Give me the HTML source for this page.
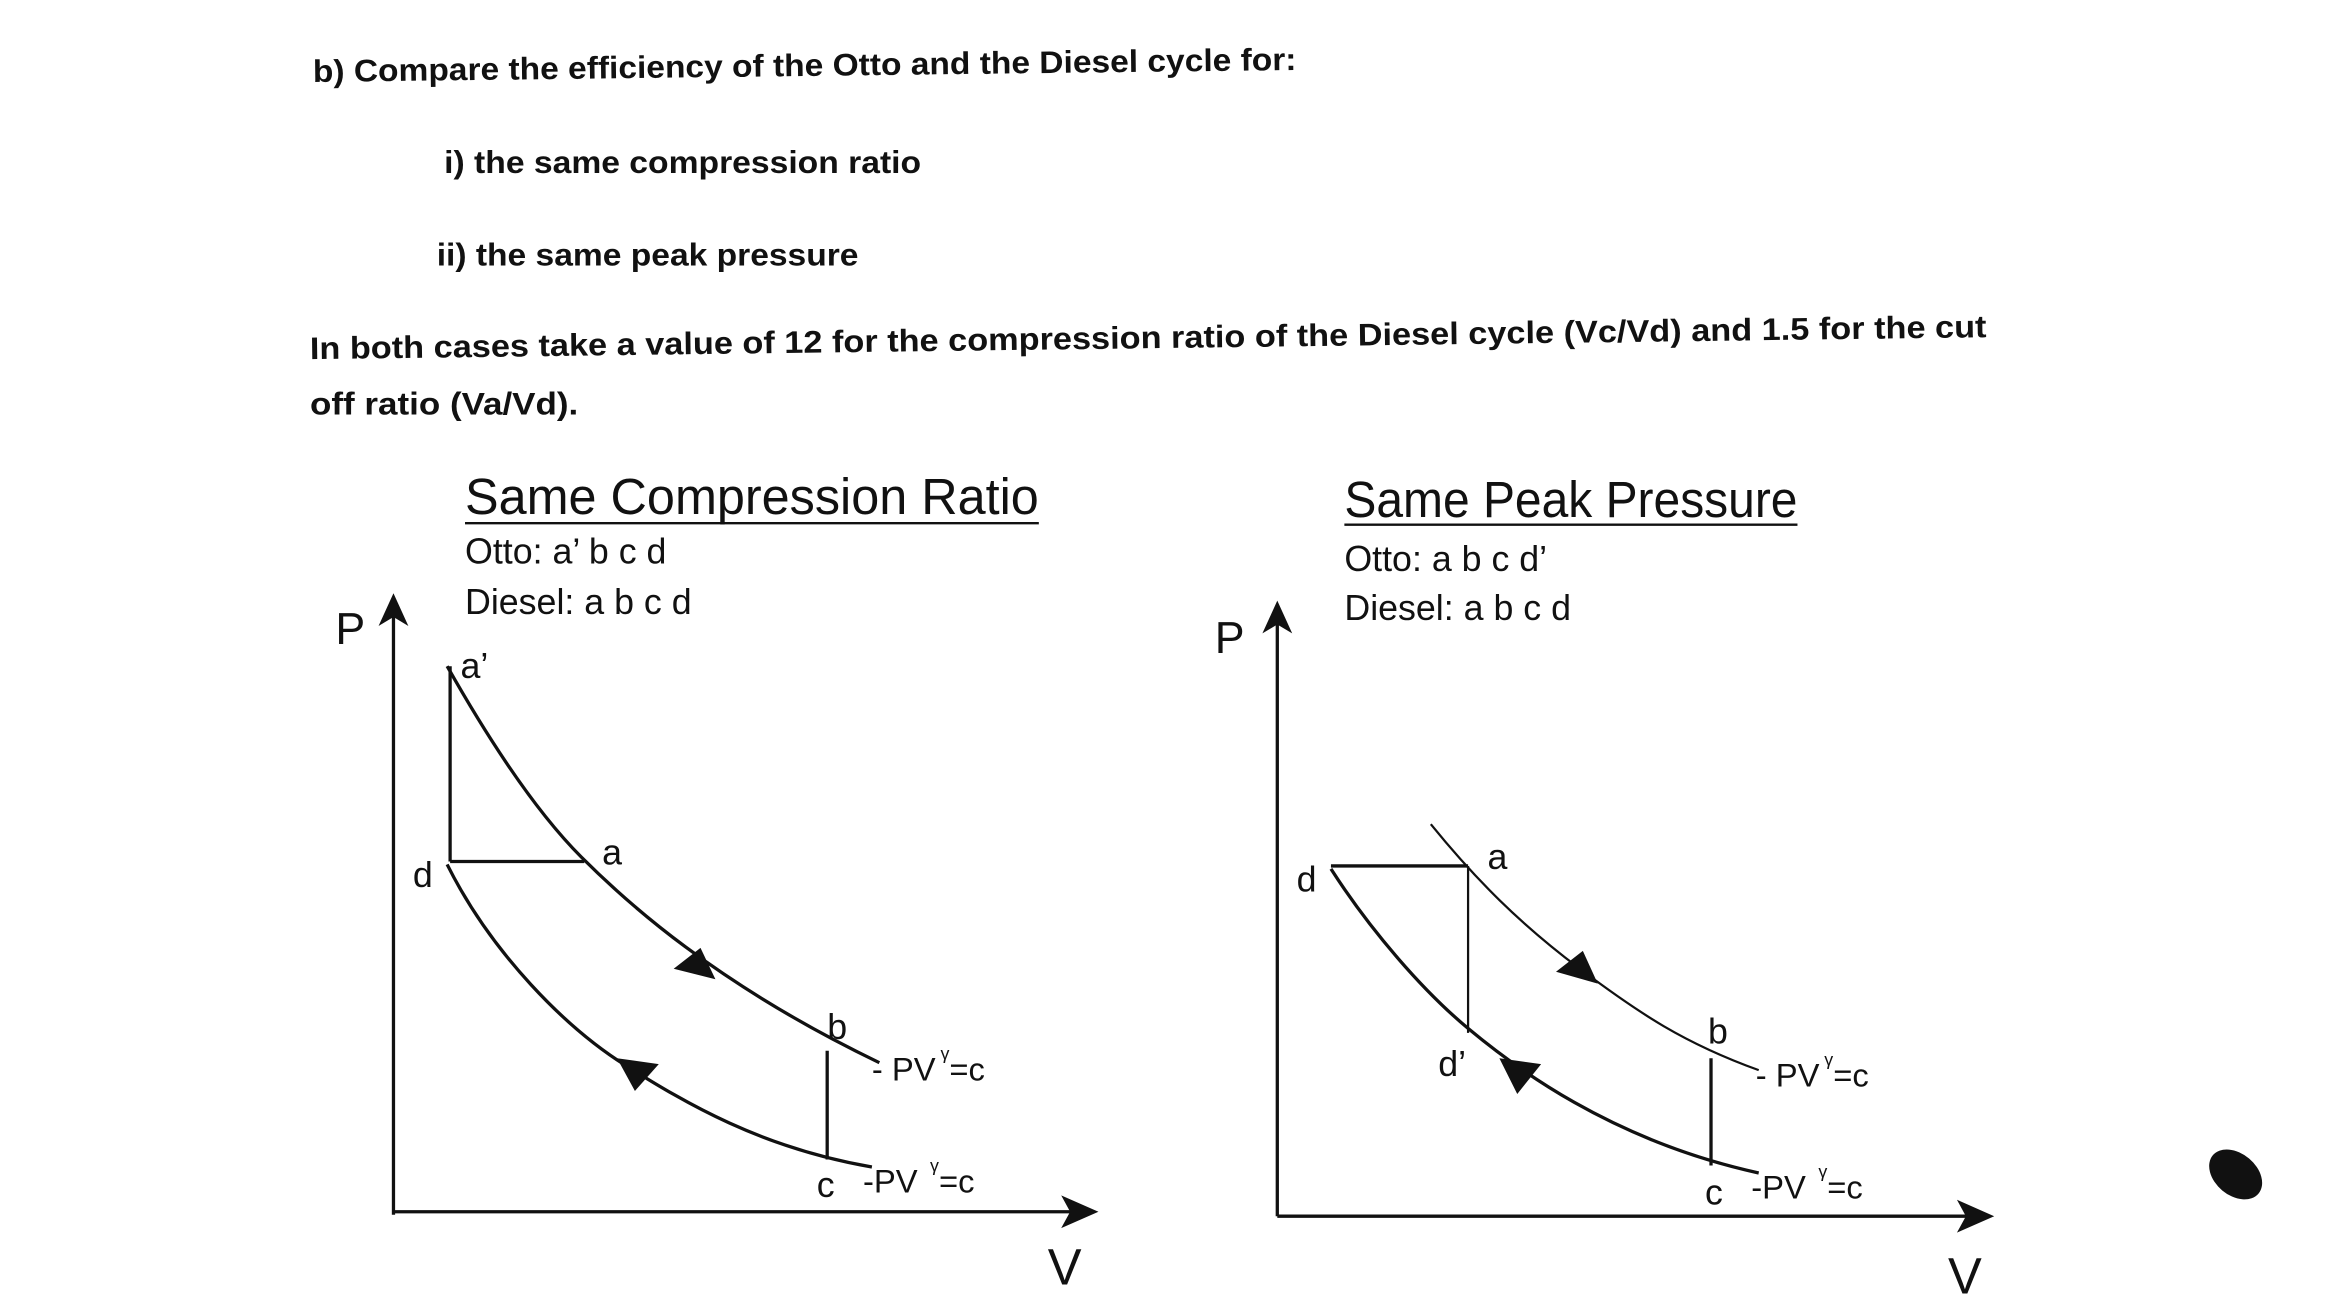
<!DOCTYPE html>
<html><head><meta charset="utf-8"><style>
html,body{margin:0;padding:0;background:#fff;}
svg{display:block;}
text{font-family:"Liberation Sans",sans-serif;fill:#111;}
</style></head><body>
<svg width="2337" height="1308" viewBox="0 0 1568 877.6" preserveAspectRatio="none" xmlns="http://www.w3.org/2000/svg">
<rect width="1568" height="878" fill="#fff"/>
<g font-size="21" font-weight="bold" fill="#1a1a1a">
<text x="210" y="55" transform="rotate(-0.7 210 55)" textLength="660" lengthAdjust="spacingAndGlyphs">b) Compare the efficiency of the Otto and the Diesel cycle for:</text>
<text x="298" y="116" textLength="320" lengthAdjust="spacingAndGlyphs">i) the same compression ratio</text>
<text x="293" y="178" textLength="283" lengthAdjust="spacingAndGlyphs">ii) the same peak pressure</text>
<text x="208" y="241" transform="rotate(-0.75 208 241)" textLength="1125" lengthAdjust="spacingAndGlyphs">In both cases take a value of 12 for the compression ratio of the Diesel cycle (Vc/Vd) and 1.5 for the cut</text>
<text x="208" y="278" textLength="180" lengthAdjust="spacingAndGlyphs">off ratio (Va/Vd).</text>
</g>
<g stroke="#111" fill="none" stroke-width="2.2">
<line x1="264" y1="410" x2="264" y2="815"/>
<line x1="264" y1="813" x2="722" y2="813"/>
<path d="M300,447 C330,500 360,545 390,575 S480,660 590,713"/>
<path d="M300,580 C330,640 380,690 420,715 S510,770 585,783"/>
<line x1="302" y1="447" x2="302" y2="578"/>
<line x1="302" y1="578" x2="392" y2="578"/>
<line x1="555" y1="705" x2="555" y2="778"/>
<line x1="312" y1="351" x2="697" y2="351" stroke-width="1.6"/>
<line x1="857" y1="415" x2="857" y2="816"/>
<line x1="857" y1="816" x2="1325" y2="816"/>
<path d="M893,583 C920,625 955,665 985,690 S1080,765 1180,787"/>
<path d="M960,553 C990,590 1020,620 1060,650 S1130,700 1180,718" stroke-width="1.5"/>
<line x1="893" y1="581" x2="985" y2="581"/>
<line x1="985" y1="581" x2="985" y2="693" stroke-width="1.5"/>
<line x1="1148" y1="710" x2="1148" y2="782"/>
<line x1="902" y1="352" x2="1206" y2="352" stroke-width="1.6"/>
</g>
<g fill="#111">
<polygon points="264,398 254,420 264,414 274,420"/>
<polygon points="737,813 712,802 718,813 712,824"/>
<polygon points="480,657 452,650 470,636"/>
<polygon points="414,710 442,714 426,732"/>
<polygon points="857,403 847,425 857,419 867,425"/>
<polygon points="1338,816 1313,805 1319,816 1313,827"/>
<polygon points="1072,660 1044,652 1062,638"/>
<polygon points="1006,710 1034,714 1018,734"/>
<ellipse cx="1500" cy="788" rx="20" ry="14" transform="rotate(40 1500 788)"/>
</g>
<g font-size="34">
<text x="312" y="345" textLength="385" lengthAdjust="spacingAndGlyphs">Same Compression Ratio</text>
<text x="902" y="347" textLength="304" lengthAdjust="spacingAndGlyphs">Same Peak Pressure</text>
<text x="703" y="862">V</text>
<text x="1307" y="868">V</text>
</g>
<g font-size="30"><text x="225" y="432">P</text><text x="815" y="438">P</text></g>
<g font-size="24">
<text x="312" y="378">Otto: a’ b c d</text>
<text x="312" y="412">Diesel: a b c d</text>
<text x="902" y="383">Otto: a b c d’</text>
<text x="902" y="416">Diesel: a b c d</text>
<text x="309" y="455">a’</text>
<text x="277" y="595">d</text>
<text x="404" y="580">a</text>
<text x="555" y="697">b</text>
<text x="548" y="803">c</text>
<text x="870" y="598">d</text>
<text x="998" y="583">a</text>
<text x="965" y="722">d’</text>
<text x="1146" y="700">b</text>
<text x="1144" y="808">c</text>
</g>
<g font-size="22">
<text x="585" y="725">- PV</text><text x="631" y="711" font-size="12">γ</text><text x="637" y="725">=c</text>
<text x="579" y="800">-PV</text><text x="624" y="786" font-size="12">γ</text><text x="630" y="800">=c</text>
<text x="1178" y="729">- PV</text><text x="1224" y="715" font-size="12">γ</text><text x="1230" y="729">=c</text>
<text x="1175" y="804">-PV</text><text x="1220" y="790" font-size="12">γ</text><text x="1226" y="804">=c</text>
</g>
</svg>
</body></html>
